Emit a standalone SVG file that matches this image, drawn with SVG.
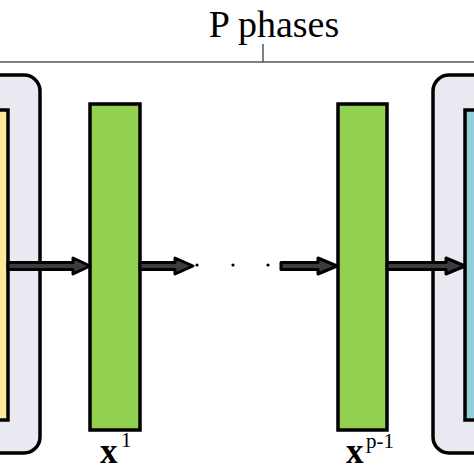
<svg xmlns="http://www.w3.org/2000/svg" width="474" height="474" viewBox="0 0 474 474">
<style>
.box{fill:#eae8f1;stroke:#000;stroke-width:3.5}
.block{stroke:#000;stroke-width:3.5}
.arrow{fill:#3c3c3c;stroke:#000;stroke-width:3;stroke-linejoin:round}
.lbl{font-family:"Liberation Serif",serif;fill:#000}
</style>
<rect width="474" height="474" fill="#fff"/>
<g id="brace">
<line x1="0" y1="62" x2="474" y2="62" stroke="#555" stroke-width="1.5"/>
<line x1="263" y1="44" x2="263" y2="62" stroke="#555" stroke-width="1.5"/>
<text class="lbl" x="274" y="37" font-size="38" text-anchor="middle">P phases</text>
</g>
<g id="left-module">
<rect class="box" x="-30" y="75" width="70" height="378" rx="16"/>
<rect class="block" x="-20" y="110" width="28" height="310" fill="#fde89c"/>
</g>
<g id="x1">
<rect class="block" x="90" y="104" width="50" height="326" fill="#92d050"/>
<text class="lbl" x="100" y="463" font-size="35" font-weight="bold">x</text>
<text class="lbl" x="121" y="447" font-size="21">1</text>
</g>
<g id="xp1">
<rect class="block" x="338" y="104" width="49" height="326" fill="#92d050"/>
<text class="lbl" x="346" y="463" font-size="35" font-weight="bold">x</text>
<text class="lbl" x="366" y="448" font-size="21">p-1</text>
</g>
<g id="right-module">
<rect class="box" x="433" y="75" width="70" height="378" rx="16"/>
<rect class="block" x="465" y="110" width="30" height="310" fill="#92cddc"/>
</g>
<g id="connectors">
<polygon class="arrow" points="8,262.5 73,262.5 73,258 90,266 73,274 73,269.5 8,269.5"/>
<polygon class="arrow" points="140,262.5 175,262.5 175,258 193,266 175,274 175,269.5 140,269.5"/>
<polygon class="arrow" points="281,262.5 318,262.5 318,258 337,266 318,274 318,269.5 281,269.5"/>
<polygon class="arrow" points="387,262.5 446,262.5 446,258 465,266 446,274 446,269.5 387,269.5"/>
<circle cx="197" cy="265" r="1.6" fill="#000"/>
<circle cx="233" cy="265" r="1.6" fill="#000"/>
<circle cx="268" cy="265" r="1.6" fill="#000"/>
</g>
</svg>
